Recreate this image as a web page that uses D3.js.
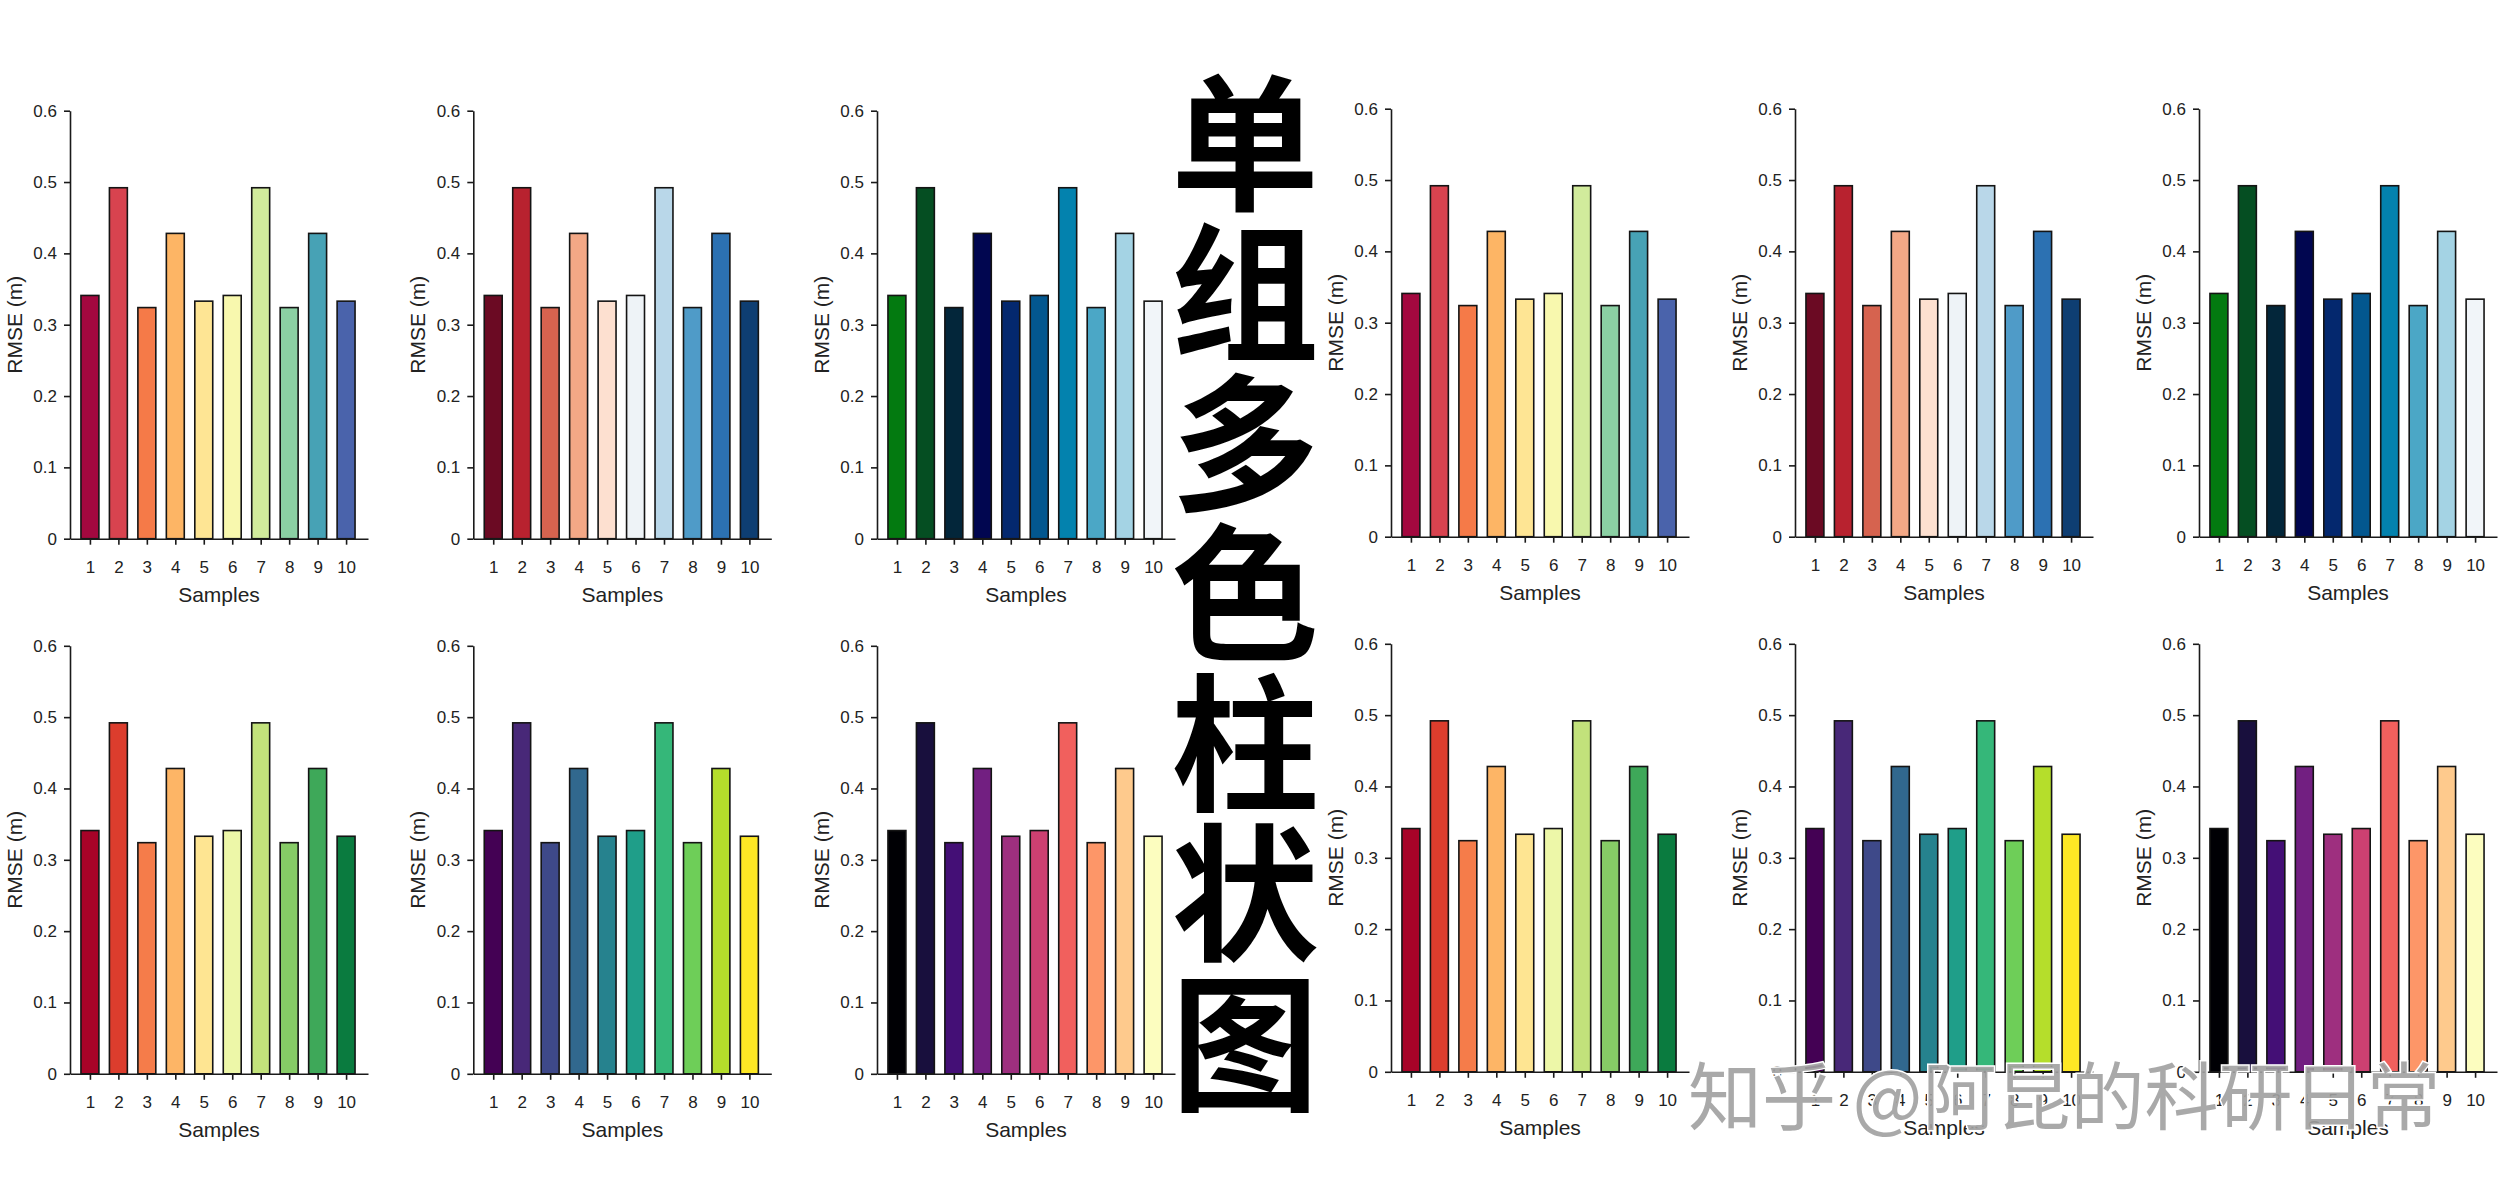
<!DOCTYPE html>
<html><head><meta charset="utf-8">
<script src="https://cdn.jsdelivr.net/npm/d3@7"></script>
<style>body{margin:0;background:#fff} svg{display:block}</style>
</head><body><svg id="c" width="2504" height="1200"></svg>
<script>
// ---- data ----
const samples = [1,2,3,4,5,6,7,8,9,10];
const rmse = [0.341,0.492,0.324,0.428,0.333,0.341,0.492,0.324,0.428,0.333];
const yTicks = [0,0.1,0.2,0.3,0.4,0.5,0.6];
const yTickLabels = ["0","0.1","0.2","0.3","0.4","0.5","0.6"];
const xLabel = "Samples";
const yLabel = "RMSE (m)";
const titleChars = ["单","组","多","色","柱","状","图"];
const watermark = "知乎 @阿昆的科研日常";

// ---- palettes ----
const spectral = ["#a3083f","#d8434f","#f57a48","#fdb565","#fee594","#f8f8ae","#d1eb9c","#8bd0a3","#47a2b5","#4a63ab"];
const rdbu     = ["#6b0a23","#b8222f","#d6634f","#f3a886","#fde0d0","#eef3f7","#b9d7e9","#4f9bc8","#2c71b2","#0e3e72"];
const oceanic  = ["#037a10","#054e22","#03263a","#010650","#04286e","#03578f","#0382ae","#4ba7c6","#a4d3e4","#f1f5f9"];
const rdylgn   = ["#a70328","#dc3d2d","#f57c4a","#fdb566","#fee592","#edf7a8","#c2e27b","#86cb66","#3ea859","#0a7b3f"];
const viridis  = ["#440154","#482878","#3e4989","#31688e","#26828e","#1f9e89","#35b779","#6ece58","#b5de2b","#fde725"];
const magma    = ["#000004","#180f3d","#440f76","#721f81","#9e2f7f","#cd4071","#f1605d","#fd9668","#feca8d","#fcfdbf"];
const panelPalettes = [spectral, rdbu, oceanic, spectral, rdbu, oceanic,
                       rdylgn, viridis, magma, rdylgn, viridis, magma];

// ---- layout ----
const colX = [70, 473.3, 877, 1391, 1795, 2199];
const rowTop = [[110.7, 108.7], [645.8, 643.8]];
const plotW = 298, plotH = 428;
const FONT = "'Liberation Sans', Arial, Helvetica, sans-serif";

const svg = d3.select("#c");
svg.append("rect").attr("width",2504).attr("height",1200).attr("fill","#fff");

const x = d3.scaleLinear().domain([0.3, 10.77]).range([0, plotW]);
const y = d3.scaleLinear().domain([0, 0.6]).range([plotH, 0]);
const barW = 0.63 * (x(2) - x(1));

panelPalettes.forEach((pal, k) => {
  const r = Math.floor(k / 6), c = k % 6;
  const top = rowTop[r][c < 3 ? 0 : 1];
  const g = svg.append("g").attr("transform", `translate(${colX[c]},${top})`);

  g.selectAll("rect.bar").data(samples).join("rect")
    .attr("class","bar")
    .attr("x", d => x(d) - barW/2)
    .attr("y", (d,i) => y(rmse[i]))
    .attr("width", barW)
    .attr("height", (d,i) => y(0) - y(rmse[i]))
    .attr("fill", (d,i) => pal[i])
    .attr("stroke", "#141414")
    .attr("stroke-width", 1.6);

  const ya = g.append("g")
    .call(d3.axisLeft(y).tickValues(yTicks).tickFormat((d,i) => yTickLabels[i])
      .tickSize(6).tickSizeOuter(0).tickPadding(7));
  const xa = g.append("g").attr("transform", `translate(0,${plotH})`)
    .call(d3.axisBottom(x).tickValues(samples).tickFormat(d3.format("d"))
      .tickSize(6).tickSizeOuter(0).tickPadding(16));
  [ya, xa].forEach(a => {
    a.selectAll("path,line").attr("stroke","#1a1a1a").attr("stroke-width",1.6);
    a.selectAll("text").attr("fill","#222").style("font-family",FONT).style("font-size","17px");
  });

  g.append("text").attr("x", (x.range()[0] + x.range()[1]) / 2).attr("y", plotH + 63)
    .attr("text-anchor","middle").attr("fill","#222")
    .style("font-family",FONT).style("font-size","21px").text(xLabel);
  g.append("text").attr("transform", `translate(-48,${plotH/2}) rotate(-90)`)
    .attr("text-anchor","middle").attr("fill","#222")
    .style("font-family",FONT).style("font-size","21px").text(yLabel);
});

// ---- vertical calligraphy-style title ----
const ty = d3.scaleLinear().domain([0, titleChars.length - 1]).range([134, 1034]);
svg.append("g").selectAll("text").data(titleChars).join("text")
  .attr("x", 1245).attr("y", (d,i) => ty(i))
  .attr("text-anchor","middle").attr("dominant-baseline","central")
  .attr("fill","#000")
  .style("font-family","'Noto Sans CJK SC', sans-serif").style("font-weight",700)
  .style("font-size","148px")
  .text(d => d);

// ---- watermark ----
svg.append("text").attr("x", 1688).attr("y", 1124)
  .attr("fill","#a0a0a0").attr("fill-opacity",0.9)
  .attr("stroke","#fff").attr("stroke-width",3).style("paint-order","stroke")
  .style("font-family","'Noto Sans CJK SC', sans-serif").style("font-size","74px")
  .text(watermark);
</script></body></html>
